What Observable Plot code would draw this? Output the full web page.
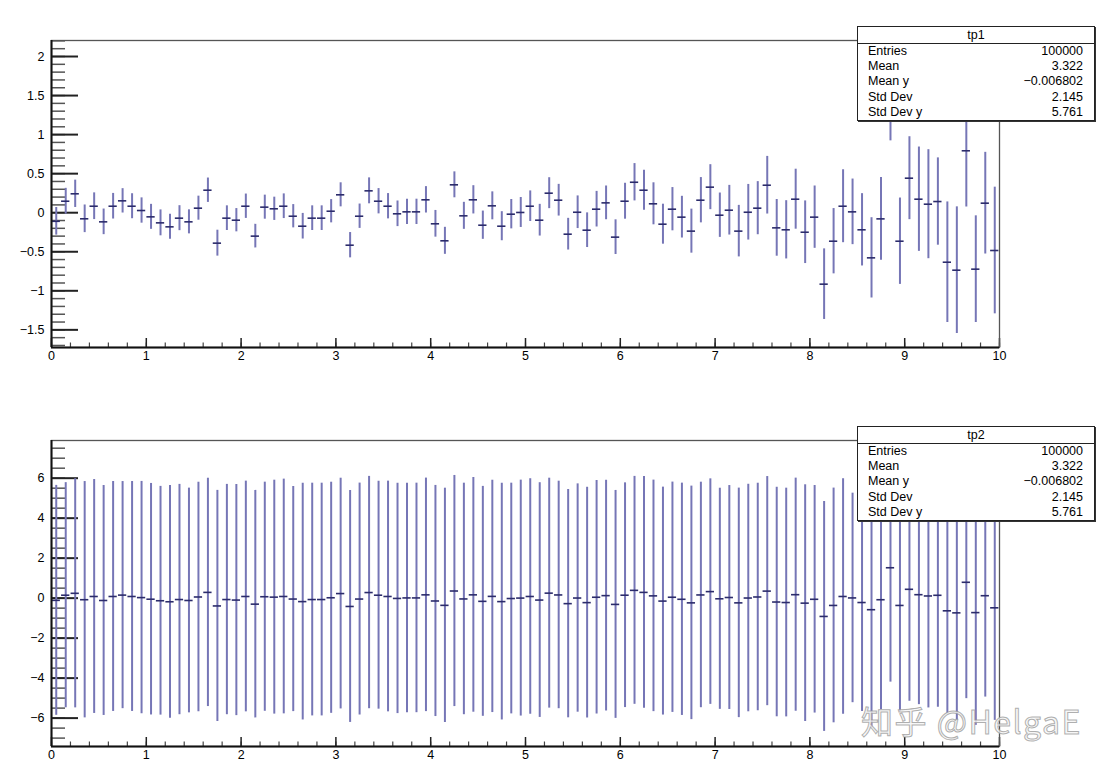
<!DOCTYPE html>
<html>
<head>
<meta charset="utf-8">
<script src="https://cdn.jsdelivr.net/npm/d3@7"></script>
<script src="https://cdn.jsdelivr.net/npm/@observablehq/plot@0.6"></script>
<style>
  body { margin: 0; background: #fff; }
  #root { position: relative; width: 1109px; height: 774px; overflow: hidden; background: #fff;
          font-family: "Liberation Sans", Arial, Helvetica, sans-serif; }
  .panel { position: absolute; left: 0; }
  .stats { position: absolute; left: 857px; width: 236px; background: #fff; border: 1px solid #222;
           box-shadow: 1px 1px 0 #333; font-size: 12.5px; color: #000; }
  .stats .title { height: 16px; line-height: 16px; text-align: center; border-bottom: 1px solid #222; }
  .stats .row { display: flex; justify-content: space-between; padding: 0 11px 0 10px;
                height: 15.2px; line-height: 15.2px; }
  .wm { position: absolute; left: 861px; top: 697px; font-size: 32px; letter-spacing: 1.5px;
        font-family: "Noto Sans CJK SC", "Liberation Sans", sans-serif; white-space: nowrap;
        color: rgba(245,245,245,0.8); -webkit-text-stroke: 1px rgba(150,150,150,0.75); }
</style>
</head>
<body>
<div id="root"></div>
<script>
// Profile binning: 100 bins on [0, 10]
const nBins = 100;
const xMin = 0;
const xMax = 10;

// Mean of y in each bin (identical for both profiles)
const means = [
  -0.110, 0.147, 0.242, -0.078, 0.083, -0.117, 0.083, 0.152, 0.083, 0.028,
  -0.053, -0.130, -0.181, -0.070, -0.117, 0.058, 0.288, -0.390, -0.070, -0.096,
  0.083, -0.300, 0.071, 0.050, 0.083, -0.045, -0.173, -0.070, -0.070, 0.019,
  0.229, -0.416, -0.045, 0.280, 0.147, 0.083, -0.014, 0.011, 0.011, 0.165,
  -0.142, -0.360, 0.357, -0.040, 0.165, -0.160, 0.088, -0.173, -0.019, 0.003,
  0.083, -0.096, 0.250, 0.160, -0.275, 0.006, -0.224, 0.045, 0.126, -0.313,
  0.147, 0.390, 0.288, 0.114, -0.147, 0.045, -0.057, -0.236, 0.160, 0.327,
  -0.032, 0.032, -0.236, 0.006, 0.058, 0.352, -0.194, -0.219, 0.173, -0.250,
  -0.057, -0.915, -0.365, 0.083, 0.011, -0.219, -0.578, -0.079, 1.520, -0.365,
  0.442, 0.173, 0.109, 0.143, -0.634, -0.736, 0.793, -0.723, 0.122, -0.484
];

// tp1: error on the mean in each bin
const meanErrors = [
  0.177, 0.165, 0.175, 0.177, 0.171, 0.164, 0.164, 0.156, 0.160, 0.162,
  0.160, 0.166, 0.160, 0.160, 0.154, 0.154, 0.156, 0.166, 0.158, 0.149,
  0.156, 0.151, 0.154, 0.149, 0.158, 0.149, 0.164, 0.158, 0.158, 0.149,
  0.154, 0.162, 0.156, 0.166, 0.162, 0.162, 0.164, 0.162, 0.162, 0.169,
  0.171, 0.173, 0.166, 0.173, 0.181, 0.181, 0.179, 0.186, 0.188, 0.192,
  0.196, 0.203, 0.198, 0.203, 0.203, 0.209, 0.222, 0.228, 0.216, 0.222,
  0.230, 0.239, 0.256, 0.269, 0.256, 0.277, 0.267, 0.282, 0.290, 0.288,
  0.284, 0.318, 0.330, 0.356, 0.340, 0.369, 0.363, 0.373, 0.384, 0.401,
  0.399, 0.452, 0.418, 0.467, 0.420, 0.463, 0.514, 0.531, 0.600, 0.553,
  0.531, 0.668, 0.698, 0.559, 0.772, 0.811, 0.720, 0.683, 0.651, 0.811
];

// tp2: spread of y in each bin
const spreads = [
  5.75, 5.63, 5.73, 5.91, 5.85, 5.75, 5.75, 5.68, 5.75, 5.81,
  5.79, 5.72, 5.82, 5.76, 5.62, 5.74, 5.71, 5.78, 5.76, 5.78,
  5.77, 5.69, 5.73, 5.85, 5.87, 5.63, 5.92, 5.82, 5.82, 5.78,
  5.77, 5.80, 5.80, 5.81, 5.70, 5.77, 5.76, 5.74, 5.74, 5.84,
  5.78, 5.86, 5.78, 5.79, 5.87, 5.75, 5.81, 5.92, 5.77, 5.90,
  5.89, 5.87, 5.75, 5.69, 5.71, 5.71, 5.77, 5.84, 5.77, 5.70,
  5.62, 5.70, 5.80, 5.79, 5.70, 5.76, 5.81, 5.84, 5.64, 5.64,
  5.53, 5.60, 5.74, 5.69, 5.69, 5.73, 5.74, 5.72, 5.83, 5.92,
  5.69, 5.75, 5.87, 5.89, 5.24, 5.45, 5.90, 5.50, 5.72, 5.30,
  5.60, 5.50, 5.60, 5.60, 5.15, 5.38, 5.82, 5.64, 5.07, 5.63
];

// Statistics box contents
const statLabels = ["Entries", "Mean", "Mean y", "Std Dev", "Std Dev y"];
const statValues = ["100000", "3.322", "\u22120.006802", "2.145", "5.761"];

// Axis ticks
const xMajor = d3.range(0, 10.001, 1);
const xMinor = d3.range(0, 10.001, 0.2);
const y1Major = [-1.5, -1, -0.5, 0, 0.5, 1, 1.5, 2];
const y1Minor = d3.range(-17, 23).map(k => k / 10);
const y2Major = [-6, -4, -2, 0, 2, 4, 6];
const y2Minor = d3.range(-14, 16).map(k => k / 2);

const binWidth = (xMax - xMin) / nBins;
const bins = means.map((m, i) => ({
  x0: xMin + i * binWidth,
  x1: xMin + (i + 1) * binWidth,
  x: xMin + (i + 0.5) * binWidth,
  mean: m,
  err: meanErrors[i],
  spread: spreads[i]
}));

const W = 1109, ML = 51, MR = 110;
const font = '"Liberation Sans", Arial, Helvetica, sans-serif';

function profilePanel({yDomain, yMajor, yMinor, half, height, marginTop, marginBottom}) {
  const frameW = W - ML - MR;
  const frameH = height - marginTop - marginBottom;
  const fmt = d3.format("~g");
  return Plot.plot({
    width: W, height, marginLeft: ML, marginRight: MR, marginTop, marginBottom,
    style: {fontFamily: font, fontSize: "12.5px", color: "#000", background: "transparent", overflow: "visible"},
    x: {domain: [xMin, xMax]},
    y: {domain: yDomain},
    marks: [
      // inward axis ticks
      Plot.ruleY(yMinor, {insetRight: frameW - 14, stroke: "#555", strokeWidth: 1.5}),
      Plot.ruleY(yMajor, {insetRight: frameW - 27, stroke: "#222", strokeWidth: 2}),
      Plot.ruleX(xMinor, {insetTop: frameH - 4.5, stroke: "#444", strokeWidth: 1.2}),
      Plot.ruleX(xMajor, {insetTop: frameH - 9, stroke: "#222", strokeWidth: 1.5}),
      // vertical error bars
      Plot.ruleX(bins, {x: "x", y1: d => d.mean - half(d), y2: d => d.mean + half(d),
                        stroke: "#7676b6", strokeWidth: 2, clip: true}),
      // bin-width markers at the mean
      Plot.ruleY(bins, {y: "mean", x1: "x0", x2: "x1", insetLeft: 0.6, insetRight: 0.6,
                        stroke: "#2b2b6b", strokeWidth: 1.6, clip: true}),
      // frame and axis lines
      Plot.frame({stroke: "#555", strokeWidth: 1.3}),
      Plot.ruleX([xMin], {stroke: "#111", strokeWidth: 2}),
      Plot.ruleY([yDomain[0]], {stroke: "#111", strokeWidth: 2}),
      Plot.axisX({ticks: xMajor, tickSize: 0, tickPadding: 4, tickFormat: d3.format("d"), label: null}),
      Plot.axisY({ticks: yMajor, tickSize: 0, tickPadding: 7, tickFormat: fmt, label: null})
    ]
  });
}

function statsBox(title, top) {
  const box = document.createElement("div");
  box.className = "stats";
  box.style.top = top + "px";
  const t = document.createElement("div");
  t.className = "title";
  t.textContent = title;
  box.appendChild(t);
  statLabels.forEach((lab, i) => {
    const row = document.createElement("div");
    row.className = "row";
    const a = document.createElement("span"); a.textContent = lab;
    const b = document.createElement("span"); b.textContent = statValues[i];
    row.appendChild(a); row.appendChild(b);
    box.appendChild(row);
  });
  return box;
}

const root = document.getElementById("root");

const top1 = profilePanel({
  yDomain: [-1.726, 2.205], yMajor: y1Major, yMinor: y1Minor,
  half: d => d.err, height: 380, marginTop: 40, marginBottom: 33
});
top1.classList.add("panel");
top1.style.top = "0px";
root.appendChild(top1);

const top2 = profilePanel({
  yDomain: [-7.42, 7.885], yMajor: y2Major, yMinor: y2Minor,
  half: d => d.spread, height: 384, marginTop: 50, marginBottom: 28
});
top2.classList.add("panel");
top2.style.top = "390px";
root.appendChild(top2);

root.appendChild(statsBox("tp1", 26));
root.appendChild(statsBox("tp2", 426));

const wm = document.createElement("div");
wm.className = "wm";
wm.textContent = "知乎 @HelgaE";
root.appendChild(wm);
</script>
</body>
</html>
